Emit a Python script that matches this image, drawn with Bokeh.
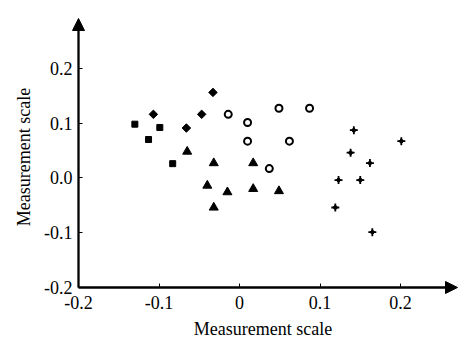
import numpy as np
from bokeh.plotting import figure
from bokeh.models import Arrow, NormalHead, FixedTicker, Range1d
from bokeh.embed import file_html
from bokeh.resources import INLINE

# Data
sq_x = [-0.130, -0.113, -0.099, -0.083]
sq_y = [0.098, 0.070, 0.092, 0.026]

dia_x = [-0.107, -0.066, -0.047, -0.033]
dia_y = [0.116, 0.091, 0.116, 0.156]

tri_x = [-0.065, -0.032, 0.017, -0.040, -0.015, 0.017, 0.049, -0.032]
tri_y = [0.048, 0.027, 0.027, -0.014, -0.026, -0.020, -0.024, -0.054]

cir_x = [-0.014, 0.010, 0.010, 0.049, 0.087, 0.062, 0.037]
cir_y = [0.116, 0.101, 0.067, 0.127, 0.127, 0.067, 0.017]

star_x = [0.142, 0.201, 0.138, 0.162, 0.123, 0.150, 0.119, 0.165]
star_y = [0.087, 0.067, 0.046, 0.027, -0.004, -0.004, -0.054, -0.099]

x_ticks = [-0.2, -0.1, 0, 0.1, 0.2]
x_labels = {-0.2: "-0.2", -0.1: "-0.1", 0: "0", 0.1: "0.1", 0.2: "0.2"}
y_ticks = [-0.2, -0.1, 0, 0.1, 0.2]
y_labels = {-0.2: "-0.2", -0.1: "-0.1", 0: "0.0", 0.1: "0.1", 0.2: "0.2"}

AX_X, AX_Y = -0.2, -0.2          # where the axes cross
X_TIP, Y_TIP = 0.2708, 0.2909    # arrow tips
X0, X1 = -0.2969, 0.2919         # frame covers the whole canvas
Y0, Y1 = -0.3168, 0.3237

FONT = "Liberation Serif"

p = figure(width=474, height=351, output_backend="svg", toolbar_location=None,
           x_range=Range1d(X0, X1), y_range=Range1d(Y0, Y1),
           min_border=0, min_border_left=0, min_border_right=0,
           min_border_top=0, min_border_bottom=0)
p.outline_line_color = None
p.grid.grid_line_color = None
p.background_fill_color = "white"

for ax, ticks, labels in ((p.xaxis[0], x_ticks, x_labels), (p.yaxis[0], y_ticks, y_labels)):
    ax.ticker = FixedTicker(ticks=ticks)
    ax.major_label_overrides = labels
    ax.axis_line_color = None
    ax.major_tick_in = 4
    ax.major_tick_out = 0
    ax.major_tick_line_color = "black"
    ax.major_tick_line_width = 1
    ax.minor_tick_line_color = None
    ax.major_label_text_font = FONT
    ax.major_label_text_font_size = "18px"
    ax.major_label_text_color = "black"
    ax.axis_label = "Measurement scale"
    ax.axis_label_text_font = FONT
    ax.axis_label_text_font_size = "18px"
    ax.axis_label_text_font_style = "normal"
    ax.axis_label_text_color = "black"

p.xaxis[0].fixed_location = AX_Y
p.yaxis[0].fixed_location = AX_X
p.xaxis[0].bounds = (-0.2, 0.2584)
p.yaxis[0].bounds = (-0.2, 0.2755)
p.xaxis[0].major_label_standoff = 9
p.xaxis[0].axis_label_standoff = 6
p.yaxis[0].major_label_standoff = 6
p.yaxis[0].axis_label_standoff = 7

# axis arrows
p.add_layout(Arrow(end=NormalHead(size=12, fill_color="black", line_color="black"),
                   x_start=AX_X, y_start=AX_Y, x_end=AX_X, y_end=Y_TIP,
                   line_width=2.3, line_color="black"))
p.add_layout(Arrow(end=NormalHead(size=12, fill_color="black", line_color="black"),
                   x_start=AX_X, y_start=AX_Y, x_end=X_TIP, y_end=AX_Y,
                   line_width=2.3, line_color="black"))

p.scatter(sq_x, sq_y, marker="square", size=6, fill_color="black", line_color="black")
p.scatter(dia_x, dia_y, marker="square", size=6, angle=np.pi / 4,
          fill_color="black", line_color="black")
p.scatter(tri_x, tri_y, marker="triangle", size=9, fill_color="black", line_color="black")
p.scatter(cir_x, cir_y, marker="circle", size=7, fill_color="white", line_color="black",
          line_width=2)
p.scatter(star_x, star_y, marker="cross", size=8, line_color="black", line_width=1.8)
p.scatter(star_x, star_y, marker="square", size=3.5, angle=np.pi / 4,
          fill_color="black", line_color="black")

open("out.html", "w").write(file_html(p, INLINE))
